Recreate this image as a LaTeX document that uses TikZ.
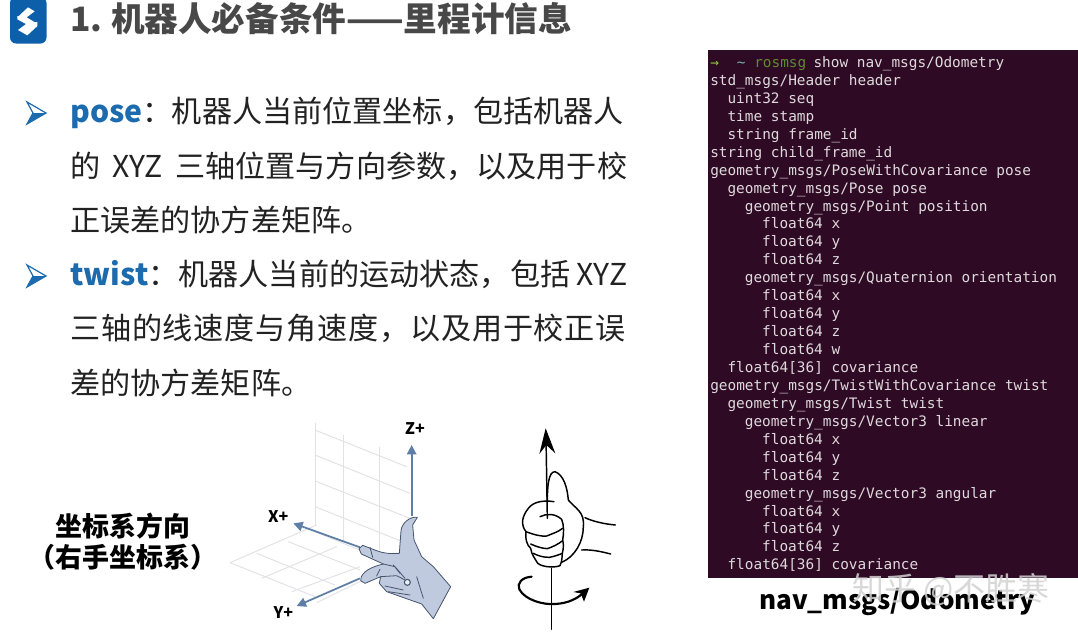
\documentclass[tikz,border=0pt]{standalone}
\usepackage{fontspec}
\setmainfont{Noto Sans CJK SC}
\setmonofont{DejaVu Sans Mono}
\usetikzlibrary{arrows.meta}
\definecolor{termbg}{HTML}{2F0A24}
\definecolor{termfg}{HTML}{DEDADC}
\definecolor{poseblue}{HTML}{1C6BAE}
\definecolor{iconblue}{HTML}{0E5FA9}
\definecolor{titlegray}{HTML}{484848}
\definecolor{bodyblack}{HTML}{222222}
\definecolor{handfill}{HTML}{BFCADF}
\definecolor{handline}{HTML}{46546C}
\definecolor{axisblue}{HTML}{5F7EA6}
\definecolor{gridgray}{HTML}{E2E2E6}
\definecolor{promptgreen}{HTML}{8CC63F}
\definecolor{prompttilde}{HTML}{6FB8A8}
\definecolor{promptcmd}{HTML}{5F8A2E}
\newcommand{\fs}[1]{\fontsize{#1pt}{#1pt}\selectfont}
\newcommand{\tline}[3]{\node[termline] (t#1) at ({710+#2*8.65},{67.5+#1*17.94}) {#3};}
\tikzset{
  bodyline/.style={anchor=base west,inner sep=0pt,font=\fs{22.6},text=bodyblack},
  termline/.style={anchor=base west,inner sep=0pt,font=\ttfamily\fs{10.8},text=termfg},
  axislabel/.style={inner sep=0pt,font=\bfseries\fs{12},text=black},
  axisarrow/.style={draw=axisblue,line width=1.3pt,-{Triangle[length=7pt,width=7pt]}},
  gridline/.style={draw=gridgray,line width=.7pt},
  handshape/.style={fill=handfill,draw=handline,line width=.6pt,line join=round},
  handdetail/.style={draw=handline,line width=.6pt,line cap=round},
  ink/.style={draw=black,line width=1.1pt,line cap=round,line join=round},
  capt/.style={inner sep=0pt,font=\bfseries\fs{20.2},text=black}
}
\newcommand{\bulletmark}[1]{%
  \begin{scope}[shift={(0,#1)}]
    \fill[poseblue] (46,0) -- (33,0) -- (27,11) -- cycle;
    \draw[poseblue,line width=.9pt,line join=miter] (46,0) -- (27,-11) -- (33,0) -- (27,11) -- cycle;
  \end{scope}}
\begin{document}
\begin{tikzpicture}[x=.75pt,y=-.75pt]
\useasboundingbox (0,0) rectangle (1078,636);
\fill[white] (0,0) rectangle (1078,636);
% icon
\fill[iconblue,rounded corners=4.5pt] (10,-3) rectangle (46.5,43.5);
\begin{scope}[shift={(0,0)},x=.25pt,y=-.25pt]
  \fill[white] (52,52) -- (84,22) -- (104,34) -- (80,52) -- (110,70) -- (110,82) -- (82,66) -- cycle;
  \fill[white] (112,66) -- (112,78) -- (82,106) -- (54,90) -- (78,72) -- (52,58) -- (52,48) -- (84,66) -- cycle;
\end{scope}
% title
\node[anchor=base west,inner sep=0pt,font=\bfseries\fs{25.2},text=titlegray] (title) at (70,31) {1.\hspace{-.05em} 机器人必备条件——里程计信息};
% bullets
\bulletmark{113}
\bulletmark{276}
% body
\node[bodyline] (l1) at (70,122) {\textbf{\textcolor{poseblue}{pose}}：\hspace{-.5pt}机器人当前位置坐标，包括机器人};
\node[bodyline] (l2) at (70,177) {\makebox[417.75pt][s]{的 XYZ 三轴位置与方向参数，以及用于校}};
\node[bodyline] (l3) at (70,231) {正误差的协方差矩阵。};
\node[bodyline] (l4) at (70,285) {\makebox[417.75pt][s]{\textbf{\textcolor{poseblue}{twist}}：机器人当前的运动状态，包括 XYZ}};
\node[bodyline] (l5) at (70,339) {\addfontfeature{LetterSpace=2.6}三轴的线速度与角速度，以及用于校正误};
\node[bodyline] (l6) at (70,394) {差的协方差矩阵。};
% caption
\node[capt] (c1) at (123,526) {坐标系方向};
\node[capt] (c2) at (123,557) {（右手坐标系）};
% coordinate figure
\begin{scope}[shift={(220,410)},x=.25pt,y=-.25pt]
  \draw[gridline] (285,40) -- (285,345) (370,75) -- (370,395) (477,110) -- (477,420);
  \draw[gridline] (285,60) -- (560,170) (285,135) -- (570,250) (285,213) -- (570,325) (285,290) -- (540,392);
  \draw[gridline] (30,458) -- (290,345) (125,505) -- (350,410) (215,545) -- (420,470) (290,578) -- (440,505);
  \draw[gridline] (30,458) -- (285,560) (110,430) -- (345,525) (205,395) -- (420,480) (285,365) -- (430,425);
  \coordinate (zs) at (575,318); \coordinate (ze) at (575,105);
  \coordinate (xs) at (420,412); \coordinate (xe) at (220,340);
  \coordinate (ys) at (420,505); \coordinate (ye) at (230,588);
  \draw[axisarrow] (zs) -- (ze);
  \draw[axisarrow] (xs) -- (xe);
  \draw[axisarrow] (ys) -- (ye);
  \path[handshape] (592,322) .. controls (570,318) and (545,340) .. (543,362)
    -- (538,430) .. controls (510,432) and (490,430) .. (470,422)
    -- (428,406) -- (417,416) -- (424,432) -- (490,462)
    .. controls (465,468) and (435,478) .. (424,500) -- (422,512) -- (435,520)
    -- (482,500) -- (478,520) -- (500,545)
    -- (605,582) -- (640,626) -- (692,530) -- (640,470) -- (605,440) -- (582,390)
    -- (578,345) -- cycle;
  \draw[handdetail] (490,462) -- (525,470) -- (555,505) (482,500) -- (530,497) -- (555,510)
    (495,528) -- (550,540) (450,412) -- (458,442) (480,478) -- (470,498)
    (520,465) -- (540,490) (590,500) -- (610,565) (505,545) -- (570,555);
  \draw[draw=handline,fill=white!70!handfill,line width=.8pt] (562,517) circle [radius=9];
  \node[axislabel] (zl) at (585,55) {Z+};
  \node[axislabel] (xl) at (175,320) {X+};
  \node[axislabel] (yl) at (190,608) {Y+};
\end{scope}
% right hand rule
\begin{scope}[shift={(490,420)},x=.25pt,y=-.25pt]
  \draw[ink] (172,295) -- (168,50);
  \fill[black] (167,25) -- (196,100) -- (169,75) -- (148,102) -- cycle;
  \draw[ink] (185,445) -- (185,628);
  \draw[ink] (172,245) .. controls (172,200) and (175,155) .. (195,155)
     .. controls (222,165) and (232,205) .. (235,240)
     .. controls (255,265) and (285,275) .. (280,320)
     .. controls (280,365) and (255,410) .. (215,427);
  \draw[ink] (285,293) .. controls (310,305) and (345,312) .. (376,315);
  \draw[ink] (275,390) .. controls (305,388) and (335,395) .. (362,402);
  \draw[ink] (192,245) .. controls (160,240) and (130,245) .. (115,265)
     .. controls (95,290) and (92,315) .. (108,335)
     .. controls (105,355) and (110,375) .. (122,385)
     .. controls (125,405) and (135,415) .. (140,425)
     .. controls (145,440) and (190,445) .. (210,437)
     .. controls (218,420) and (215,410) .. (217,400)
     .. controls (222,380) and (220,370) .. (218,360)
     .. controls (222,340) and (222,315) .. (215,298)
     .. controls (195,280) and (170,280) .. (150,290);
  \draw[ink] (108,335) .. controls (135,345) and (155,350) .. (170,348) .. controls (190,340) and (205,335) .. (218,325);
  \draw[ink] (122,372) .. controls (140,380) and (155,385) .. (172,386) .. controls (190,380) and (205,372) .. (218,362);
  \draw[ink] (130,400) .. controls (145,408) and (160,412) .. (178,412) .. controls (190,410) and (205,405) .. (217,400);
  \draw[ink,line width=1.6pt] (125,470) .. controls (95,472) and (80,490) .. (88,508)
     .. controls (105,540) and (160,555) .. (195,552)
     .. controls (235,550) and (265,535) .. (283,515);
  \fill[black] (298,503) -- (282,545) -- (272,520) -- (250,516) -- cycle;
\end{scope}
% terminal
\fill[termbg] (708,50) rectangle (1078,578);
\node[termline] (t0) at (710,67.5) {\textcolor{promptgreen}{→}\hspace{1.25em}\textcolor{prompttilde}{\char`\~}\hspace{.6em}\textcolor{promptcmd}{rosmsg}\hspace{-.1em} show nav\_msgs/Odometry};
\tline{1}{0}{std\_msgs/Header header}
\tline{2}{2}{uint32 seq}
\tline{3}{2}{time stamp}
\tline{4}{2}{string frame\_id}
\tline{5}{0}{string child\_frame\_id}
\tline{6}{0}{geometry\_msgs/PoseWithCovariance pose}
\tline{7}{2}{geometry\_msgs/Pose pose}
\tline{8}{4}{geometry\_msgs/Point position}
\tline{9}{6}{float64 x}
\tline{10}{6}{float64 y}
\tline{11}{6}{float64 z}
\tline{12}{4}{geometry\_msgs/Quaternion orientation}
\tline{13}{6}{float64 x}
\tline{14}{6}{float64 y}
\tline{15}{6}{float64 z}
\tline{16}{6}{float64 w}
\tline{17}{2}{float64[36] covariance}
\tline{18}{0}{geometry\_msgs/TwistWithCovariance twist}
\tline{19}{2}{geometry\_msgs/Twist twist}
\tline{20}{4}{geometry\_msgs/Vector3 linear}
\tline{21}{6}{float64 x}
\tline{22}{6}{float64 y}
\tline{23}{6}{float64 z}
\tline{24}{4}{geometry\_msgs/Vector3 angular}
\tline{25}{6}{float64 x}
\tline{26}{6}{float64 y}
\tline{27}{6}{float64 z}
\tline{28}{2}{float64[36] covariance}
% caption right
\node[inner sep=0pt,font=\bfseries\fs{19.5},text=black] (navcap) at (897,602) {nav\_msgs/Odometry};
\node[inner sep=0pt,font=\fs{24},text=gray!35,opacity=.85] (wm) at (951,590) {知乎 @不胜寒};
\end{tikzpicture}
\end{document}
